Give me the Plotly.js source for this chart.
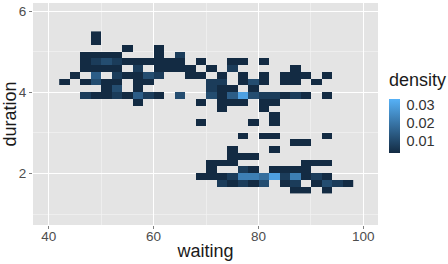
<!DOCTYPE html>
<html>
<head>
<meta charset="utf-8">
<script src="https://cdn.plot.ly/plotly-3.0.1.min.js"></script>
<style>html,body{margin:0;padding:0;background:#fff}#p{width:448px;height:264px}</style>
</head>
<body>
<div id="p"></div>
<script>
// Bin centres (binwidth 2 min, 1/6 min)
var waitingBins = [43,45,47,49,51,53,55,57,59,61,63,65,67,69,71,73,75,77,79,81,83,85,87,89,91,93,95,97];
var durationBins = [1.5833,1.75,1.9167,2.0833,2.25,2.4167,2.5833,2.75,2.9167,3.0833,3.25,3.4167,3.5833,3.75,3.9167,4.0833,4.25,4.4167,4.5833,4.75,4.9167,5.0833,5.25,5.4167];
var total = 272;
// observations per bin; each row lists {column index: count}, lowest duration first
var countRows = [
  {22:1,23:1,25:1},
  {15:2,16:1,17:2,18:1,19:3,21:1,22:2,24:1,25:3,26:2,27:1},
  {13:1,14:1,15:1,16:2,17:6,18:6,19:5,20:8,21:2,22:6,23:1,24:2,25:1},
  {14:1,17:2,18:1,20:1,21:1,22:1,23:1},
  {14:1,15:1,16:1,23:1,24:1,25:1},
  {16:1,17:1,18:1},
  {16:1,20:1},
  {22:1,23:1},
  {17:1,19:1,20:1,25:1},
  {},
  {13:1,18:1,20:1},
  {20:1},
  {15:1,19:1},
  {7:1,13:1,15:1,16:1,17:1,19:1,20:1},
  {2:2,3:1,4:1,5:2,6:1,7:4,8:2,9:1,11:3,14:3,15:1,16:4,17:8,18:3,19:2,20:2,21:1,22:2,23:1,25:1},
  {4:1,5:3,7:1,14:2,15:1,16:1,18:1},
  {0:1,2:1,3:3,4:1,5:1,7:1,8:1,14:2,15:2,17:1,18:3,19:1,21:1,22:1,24:1},
  {1:1,3:4,5:2,6:1,7:1,8:3,9:2,12:1,13:1,15:1,17:1,19:1,21:1,22:1,23:1,25:1},
  {2:1,3:1,4:1,5:1,7:2,9:1,10:1,11:1,12:1,14:1,16:2,22:1},
  {2:1,3:2,4:3,5:2,6:1,7:1,8:1,9:1,10:1,11:1,13:1,16:1,17:1,19:1},
  {2:1,3:1,4:1,5:1,9:1,11:2},
  {6:1,9:1},
  {3:1},
  {3:1}
];
var tickWaiting = [40,60,80,100];
var tickDuration = [2,4,6];
var tickDensity = [0.01,0.02,0.03];

var density = countRows.map(function(row){
  return waitingBins.map(function(_, c){ return row[c] ? row[c]/total : null; });
});

var trace = {
  type:'heatmap', x:waitingBins, y:durationBins, z:density,
  zmin:1/total, zmax:9/total, zsmooth:false, hoverongaps:false,
  colorscale:[[0,'#132B43'],[1,'#56B1F7']],
  colorbar:{
    tickvals:tickDensity, ticktext:['0.01','0.02','0.03'],
    tickfont:{family:'Liberation Sans', size:14.5, color:'#333'},
    ticks:'outside', ticklen:4, tickcolor:'rgba(0,0,0,0)', outlinewidth:0, thickness:11, thicknessmode:'pixels',
    len:54, lenmode:'pixels', x:1.032, xanchor:'left', xpad:0, ypad:0,
    y:0.447, yanchor:'middle'
  }
};
var axisBase = {
  showgrid:true, gridcolor:'#fff', gridwidth:1.2, zeroline:false, ticks:'outside', ticklen:3, tickwidth:1,
  tickcolor:'#7f7f7f', tickfont:{family:'Liberation Sans', size:13.5, color:'#4d4d4d'}, showline:false
};
var layout = {
  width:448, height:264, paper_bgcolor:'#fff', plot_bgcolor:'#E4E4E4',
  margin:{l:33,r:70,t:3,b:38.5},
  annotations:[{text:'density', xref:'paper', yref:'paper', x:1.032, y:0.655, xanchor:'left', yanchor:'middle', showarrow:false, xshift:-1,
    font:{family:'Liberation Sans', size:18, color:'#1a1a1a'}, borderpad:0}],
  xaxis:Object.assign({}, axisBase, {
    range:[37,102.8], tickvals:tickWaiting, ticktext:tickWaiting.map(String), ticklabelstandoff:-4,
    title:{text:'waiting', font:{family:'Liberation Sans', size:18, color:'#1a1a1a'}, standoff:1},
    minor:{tickvals:[50,70,90], showgrid:true, gridcolor:'#f2f2f2', gridwidth:0.7, ticks:''}
  }),
  yaxis:Object.assign({}, axisBase, {
    range:[0.73,6.2], tickvals:tickDuration, ticktext:tickDuration.map(String),
    title:{text:'duration', font:{family:'Liberation Sans', size:18, color:'#1a1a1a'}, standoff:5},
    minor:{tickvals:[1,3,5], showgrid:true, gridcolor:'#f2f2f2', gridwidth:0.7, ticks:''}
  })
};
Plotly.newPlot('p',[trace],layout,{displayModeBar:false,staticPlot:true});
</script>
</body>
</html>
